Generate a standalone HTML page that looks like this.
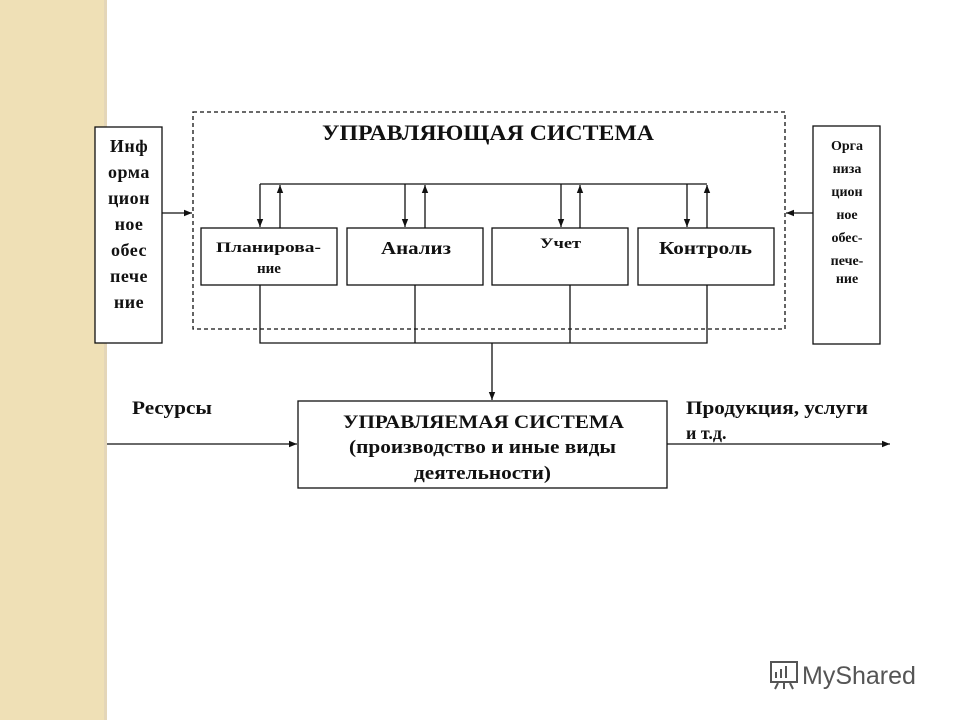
<!DOCTYPE html>
<html><head><meta charset="utf-8"><style>
html,body{margin:0;padding:0;background:#fff;width:960px;height:720px;overflow:hidden}
svg text{font-family:"Liberation Serif",serif;font-weight:bold;fill:#111}
</style></head><body>
<svg width="960" height="720" viewBox="0 0 960 720" xmlns="http://www.w3.org/2000/svg">
<defs>
<marker id="a" viewBox="0 0 10 10" refX="10" refY="5" markerWidth="8" markerHeight="8" orient="auto-start-reverse" markerUnits="userSpaceOnUse"><path d="M0,1 L10,5 L0,9 z" fill="#111"/></marker>
</defs>
<rect x="0" y="0" width="106" height="720" fill="#efe0b6"/>
<rect x="104" y="0" width="3" height="720" fill="#e4d6b8"/>
<g stroke="#111" stroke-width="1.3" fill="none">
<rect x="95" y="127" width="67" height="216" fill="#fff"/>
<rect x="813" y="126" width="67" height="218" fill="#fff"/>
<rect x="193" y="112" width="592" height="217" stroke-dasharray="4,3"/>
<rect x="201" y="228" width="136" height="57"/>
<rect x="347" y="228" width="136" height="57"/>
<rect x="492" y="228" width="136" height="57"/>
<rect x="638" y="228" width="136" height="57"/>
<rect x="298" y="401" width="369" height="87"/>
<path d="M260 184 H707"/>
<path d="M260 184 V227" marker-end="url(#a)"/>
<path d="M280 228 V185" marker-end="url(#a)"/>
<path d="M405 184 V227" marker-end="url(#a)"/>
<path d="M425 228 V185" marker-end="url(#a)"/>
<path d="M561 184 V227" marker-end="url(#a)"/>
<path d="M580 228 V185" marker-end="url(#a)"/>
<path d="M687 184 V227" marker-end="url(#a)"/>
<path d="M707 228 V185" marker-end="url(#a)"/>
<path d="M260 285 V343 H707 V285 M415 285 V343 M570 285 V343"/>
<path d="M492 343 V400" marker-end="url(#a)"/>
<path d="M162 213 H192" marker-end="url(#a)"/>
<path d="M813 213 H786" marker-end="url(#a)"/>
<path d="M107 444 H297" marker-end="url(#a)"/>
<path d="M667 444 H890" marker-end="url(#a)"/>
</g>
<text x="322" y="140" font-size="22" textLength="332" lengthAdjust="spacingAndGlyphs">УПРАВЛЯЮЩАЯ СИСТЕМА</text>
<g text-anchor="middle">
<g font-size="18" letter-spacing="0.5">
<text x="129" y="152">Инф</text>
<text x="129" y="178">орма</text>
<text x="129" y="204">цион</text>
<text x="129" y="230">ное</text>
<text x="129" y="256">обес</text>
<text x="129" y="282">пече</text>
<text x="129" y="308">ние</text>
</g>
<g font-size="14">
<text x="847" y="150">Орга</text>
<text x="847" y="173">низа</text>
<text x="847" y="196">цион</text>
<text x="847" y="219">ное</text>
<text x="847" y="242">обес-</text>
<text x="847" y="265">пече-</text>
<text x="847" y="283">ние</text>
</g>
</g>
<text x="216" y="252" font-size="15" textLength="105" lengthAdjust="spacingAndGlyphs">Планирова-</text>
<text x="257" y="273" font-size="15">ние</text>
<text x="381" y="254" font-size="18" textLength="70" lengthAdjust="spacingAndGlyphs">Анализ</text>
<text x="540" y="248" font-size="15" textLength="41" lengthAdjust="spacingAndGlyphs">Учет</text>
<text x="659" y="254" font-size="18" textLength="93" lengthAdjust="spacingAndGlyphs">Контроль</text>
<text x="343" y="428" font-size="19" textLength="281" lengthAdjust="spacingAndGlyphs">УПРАВЛЯЕМАЯ СИСТЕМА</text>
<text x="349" y="453" font-size="19" textLength="267" lengthAdjust="spacingAndGlyphs">(производство и иные виды</text>
<text x="414" y="479" font-size="19" textLength="137" lengthAdjust="spacingAndGlyphs">деятельности)</text>
<text x="132" y="414" font-size="19" textLength="80" lengthAdjust="spacingAndGlyphs">Ресурсы</text>
<text x="686" y="414" font-size="19" textLength="182" lengthAdjust="spacingAndGlyphs">Продукция, услуги</text>
<text x="686" y="439" font-size="18">и т.д.</text>
<g stroke="#555" stroke-width="2" fill="none">
<rect x="771" y="662" width="26" height="20"/>
<path d="M776 672v6 M781 669v9 M786 666v12 M778 683l-3 6 M784 683v6 M790 683l3 6"/>
</g>
<text x="802" y="684" font-size="25" style="font-family:'Liberation Sans',sans-serif;font-weight:normal;fill:#555">MyShared</text>
</svg>
</body></html>
